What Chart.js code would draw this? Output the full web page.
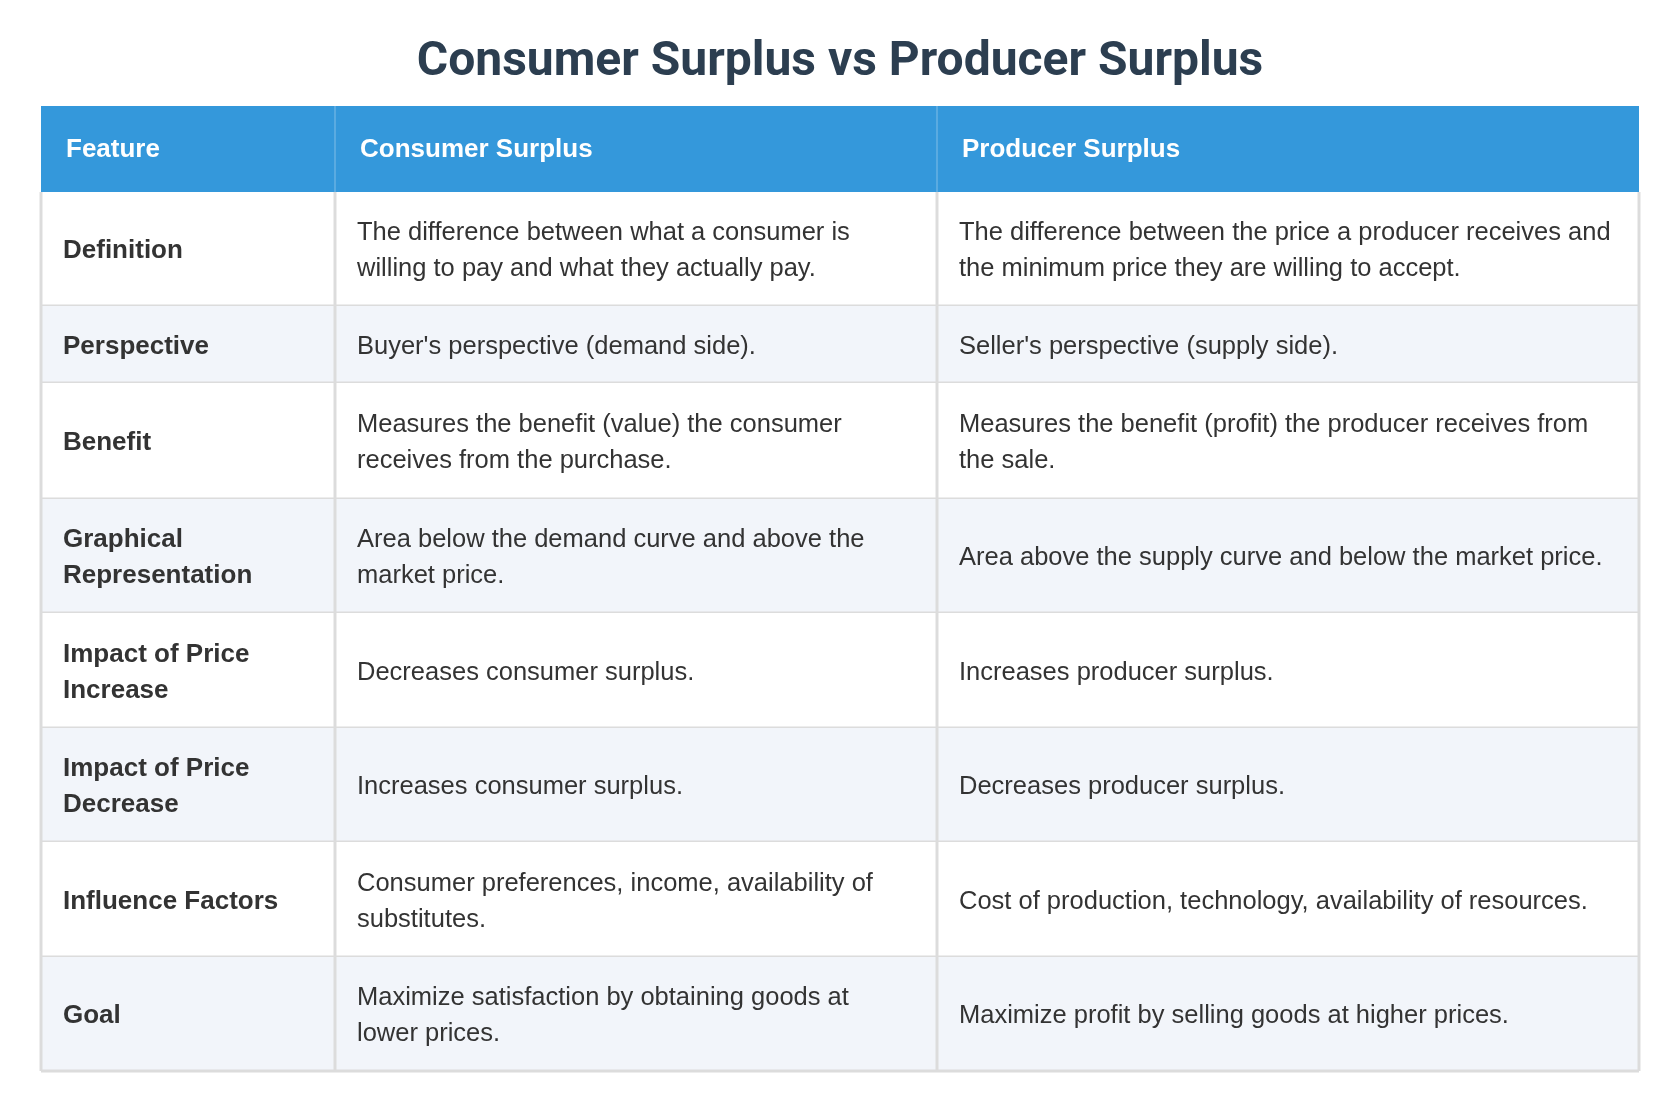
<!DOCTYPE html>
<html><head><meta charset="utf-8">
<script src="https://cdn.jsdelivr.net/npm/chart.js@4"></script>
<style>html,body{margin:0;padding:0;background:#fff}#wrap{width:1680px;height:1116px}</style>
</head><body><div id="wrap"><canvas id="c" width="1680" height="1116"></canvas></div>
<script>
const title = "Consumer Surplus vs Producer Surplus";
const headers = ["Feature", "Consumer Surplus", "Producer Surplus"];
const features = ["Definition","Perspective","Benefit","Graphical Representation","Impact of Price Increase","Impact of Price Decrease","Influence Factors","Goal"];
const consumer = [
 "The difference between what a consumer is willing to pay and what they actually pay.",
 "Buyer's perspective (demand side).",
 "Measures the benefit (value) the consumer receives from the purchase.",
 "Area below the demand curve and above the market price.",
 "Decreases consumer surplus.",
 "Increases consumer surplus.",
 "Consumer preferences, income, availability of substitutes.",
 "Maximize satisfaction by obtaining goods at lower prices."];
const producer = [
 "The difference between the price a producer receives and the minimum price they are willing to accept.",
 "Seller's perspective (supply side).",
 "Measures the benefit (profit) the producer receives from the sale.",
 "Area above the supply curve and below the market price.",
 "Increases producer surplus.",
 "Decreases producer surplus.",
 "Cost of production, technology, availability of resources.",
 "Maximize profit by selling goods at higher prices."];

const colX = [41, 335, 937, 1639];
const headTop = 106, headBot = 192;
const rowBot = [306, 383, 499, 613, 728, 842, 957, 1071];

function wrap(ctx, text, maxW){
  const words = text.split(' '); const lines=[]; let cur='';
  for(const w of words){ const t = cur? cur+' '+w : w;
    if(ctx.measureText(t).width > maxW && cur){ lines.push(cur); cur=w; } else cur=t; }
  if(cur) lines.push(cur); return lines;
}
const tablePlugin = {
  id:'table',
  afterDraw(chart){
    const ctx = chart.ctx; ctx.save();
    ctx.fillStyle='#fff'; ctx.fillRect(0,0,1680,1116);
    ctx.fillStyle='#2c3e50'; ctx.font='bold 48px Roboto'; ctx.textAlign='center'; ctx.textBaseline='middle';
    ctx.fillText(title, 840, 63);
    ctx.fillStyle='#3498db'; ctx.fillRect(colX[0], headTop, colX[3]-colX[0], headBot-headTop);
    ctx.textAlign='left'; ctx.fillStyle='#fff'; ctx.font='bold 26px "Liberation Sans"';
    for(let c=0;c<3;c++) ctx.fillText(headers[c], colX[c]+25, (headTop+headBot)/2+1);
    ctx.strokeStyle='rgba(255,255,255,0.25)'; ctx.lineWidth=1.5;
    for(let c=1;c<3;c++){ctx.beginPath();ctx.moveTo(colX[c],headTop);ctx.lineTo(colX[c],headBot);ctx.stroke();}
    let top = headBot;
    for(let r=0;r<features.length;r++){
      const bot = rowBot[r];
      ctx.fillStyle = r%2===0 ? '#ffffff' : '#f2f5fa';
      ctx.fillRect(colX[0], top, colX[3]-colX[0], bot-top);
      const cells=[features[r], consumer[r], producer[r]];
      for(let c=0;c<3;c++){
        ctx.font = c===0 ? 'bold 26px "Liberation Sans"' : '25.5px "Liberation Sans"';
        ctx.fillStyle = '#333';
        const lines = wrap(ctx, cells[c], colX[c+1]-colX[c]-46);
        const lh=36, mid=(top+bot)/2+2;
        lines.forEach((l,i)=>ctx.fillText(l, colX[c]+22, mid + (i-(lines.length-1)/2)*lh));
      }
      ctx.strokeStyle='#dcdcdc'; ctx.lineWidth=3;
      ctx.beginPath(); ctx.moveTo(colX[0],bot); ctx.lineTo(colX[3],bot); ctx.stroke();
      for(let c=0;c<4;c++){ctx.beginPath();ctx.moveTo(colX[c],top);ctx.lineTo(colX[c],bot);ctx.stroke();}
      top = bot;
    }
    ctx.restore();
  }
};
new Chart(document.getElementById('c'), {
  type:'bar',
  data:{labels:features, datasets:[{data:features.map(()=>0)}]},
  options:{responsive:false, animation:false, devicePixelRatio:1,
    plugins:{legend:{display:false}, tooltip:{enabled:false}},
    scales:{x:{display:false}, y:{display:false}}},
  plugins:[tablePlugin]
});
</script></body></html>
